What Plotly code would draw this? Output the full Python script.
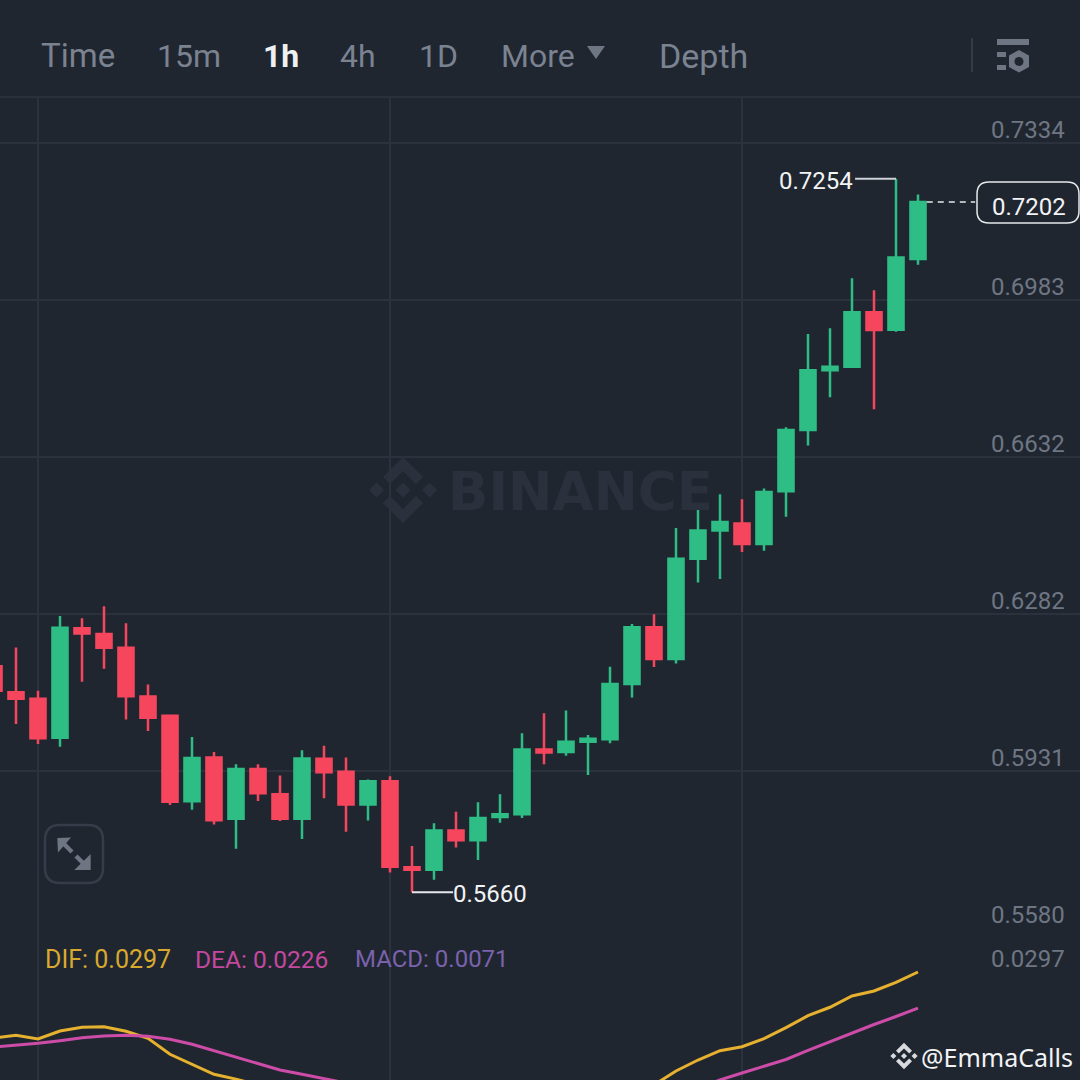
import plotly.graph_objects as go

candle_idx = list(range(43))
opens = [.6165, .6107, .6092, .6005, .6250, .6237, .6206, .6097, .6054, .5863, .5961, .5824, .5935, .5879, .5824,
         .5958, .5929, .5856, .5908, .5716, .5710, .5798, .5776, .5828, .5834, .5979, .5973, .5996, .6002, .6125,
         .6252, .6181, .6405, .6468, .6484, .6438, .6556, .6693, .6826, .6834, .6956, .6917, .7075]
highs = [.6165, .6207, .6110, .6277, .6272, .6299, .6261, .6124, .6054, .6007, .5973, .5946, .5946, .5921, .5977,
         .5987, .5961, .5912, .5919, .5763, .5814, .5840, .5861, .5879, .6015, .6060, .6066, .6011, .6164, .6259,
         .6281, .6474, .6520, .6549, .6538, .6562, .6699, .6907, .6920, .7032, .7005, .7254, .7219]
lows = [.6110, .6036, .5991, .5985, .6130, .6159, .6046, .6020, .5855, .5844, .5811, .5757, .5864, .5819, .5779,
        .5870, .5795, .5820, .5704, .5660, .5688, .5760, .5732, .5815, .5826, .5946, .5965, .5922, .5993, .6095,
        .6163, .6171, .6352, .6360, .6420, .6423, .6499, .6658, .6766, .6834, .6739, .6912, .7062]
closes = [.6110, .6092, .6004, .6251, .6238, .6206, .6098, .6050, .5862, .5960, .5821, .5935, .5881, .5824, .5959,
          .5928, .5856, .5908, .5717, .5710, .5798, .5776, .5826, .5834, .5979, .5972, .5996, .6003, .6125, .6252,
          .6181, .6405, .6468, .6487, .6438, .6554, .6693, .6826, .6834, .6956, .6916, .7078, .7202]

dif = [.0167, .01723, .0165, .01808, .01881, .01892, .01802, .01664, .01349, .01152, .00955, .0086, .00744,
       None, None, None, None, None, None, None, None, None, None, None, None, None, None, None, None, None,
       .00744, .0102, .01236, .0142, .01498, .01656, .01873, .02109, .02275, .02497, .02596, .02767, .0297]
dea = [.01492, .01526, .01565, .01617, .01676, .01709, .01723, .01703, .01644, .01546, .0142, .01301, .01171,
       .01039, .00955, .00868, .00783,
       None, None, None, None, None, None, None, None, None, None, None, None, None, None, None,
       .00685, .00842, .0098, .01108, .01246, .01424, .01597, .01768, .01936, .02093, .0226]

price_ticks = [.7334, .6983, .6632, .6282, .5931, .5580]
price_labels = ['0.7334', '0.6983', '0.6632', '0.6282', '0.5931', '0.5580']
grid_idx = [2, 18, 34]
last_price = .7202
high_price = .7254
low_price = .5660

BG = '#1f2630'
GRID = '#2c323d'
GRAY = '#6f7683'
TAB = '#7b8290'
GREEN = '#2ebd85'
RED = '#f6465d'
LOGO_DIM = '#2b313c'
LOGO_WHITE = '#d8dade'


# pixel helpers for the app chrome around the chart
def px(x):
    return x / 1080


def py(y):
    return 1 - y / 1080


def path_of(points):
    return 'M ' + ' L '.join(f'{px(x):.5f} {py(y):.5f}' for x, y in points) + ' Z'


def chrome_text(x, y, text, color=TAB, size=32, anchor='left', weight=400, family='Roboto'):
    return dict(xref='paper', yref='paper', x=px(x), y=py(y), text=text, showarrow=False, xanchor=anchor,
                yanchor='middle', font=dict(family=family, size=size, color=color, weight=weight))


def logo(cx, cy, s, color):
    # Binance mark made of two chevrons and three small diamonds
    shapes = []
    chevron = [(0, -33), (20, -13), (13, -6), (0, -19), (-13, -6), (-20, -13)]
    for sign in (1, -1):
        pts = [(cx + a * s, cy + sign * b * s) for a, b in chevron]
        shapes.append(dict(type='path', path=path_of(pts), fillcolor=color, line_width=0, xref='paper', yref='paper'))
    for dx in (-26.5, 0, 26.5):
        pts = [(cx + (dx + a) * s, cy + b * s) for a, b in [(0, -7.5), (7.5, 0), (0, 7.5), (-7.5, 0)]]
        shapes.append(dict(type='path', path=path_of(pts), fillcolor=color, line_width=0, xref='paper', yref='paper'))
    return shapes


fig = go.Figure()
fig.add_trace(go.Candlestick(x=candle_idx, open=opens, high=highs, low=lows, close=closes,
                             whiskerwidth=0, showlegend=False, hoverinfo='skip',
                             increasing=dict(line=dict(color=GREEN, width=2.5), fillcolor=GREEN),
                             decreasing=dict(line=dict(color=RED, width=2.5), fillcolor=RED)))
fig.add_trace(go.Scatter(x=candle_idx, y=dif, mode='lines', xaxis='x2', yaxis='y2', showlegend=False,
                         line=dict(color='#e6b12e', width=3), hoverinfo='skip'))
fig.add_trace(go.Scatter(x=candle_idx, y=dea, mode='lines', xaxis='x2', yaxis='y2', showlegend=False,
                         line=dict(color='#cc4ca8', width=3), hoverinfo='skip'))

annotations = []
for val, lab in zip(price_ticks, price_labels):
    annotations.append(dict(xref='paper', yref='y', x=px(1067), y=val, yshift=13, text=lab, showarrow=False,
                            xanchor='right', yanchor='middle', font=dict(family='Roboto', size=24, color=GRAY)))

annotations += [
    chrome_text(39, 56, 'Time', size=33),
    chrome_text(155, 56, '15m'),
    chrome_text(261, 56, '1h', color='#eef0f2', weight=700),
    chrome_text(338, 56, '4h'),
    chrome_text(417, 56, '1D'),
    chrome_text(499, 56, 'More'),
    chrome_text(657, 56, 'Depth', size=34),
    chrome_text(43, 959, 'DIF: 0.0297', color='#d9a92f', size=25),
    chrome_text(193, 959, 'DEA: 0.0226', color='#c4489f', size=24.5),
    chrome_text(353, 959, 'MACD: 0.0071', color='#7a62ad', size=24),
    chrome_text(1067, 959, '0.0297', color=GRAY, size=24, anchor='right'),
    chrome_text(1029, 207, '0.7202', color='#f2f3f5', size=24, anchor='center'),
    chrome_text(446, 491, 'BINANCE', color=LOGO_DIM, size=53, weight=700, family='DejaVu Sans'),
    chrome_text(919, 1057, '@EmmaCalls', color='#f2f3f5', size=25, family='Noto Sans'),
    dict(xref='x', yref='y', x=41, y=high_price, text='0.7254', showarrow=False, xanchor='right', xshift=-41,
         yanchor='middle', yshift=-2, font=dict(family='Roboto', size=24, color='#f2f3f5')),
    dict(xref='x', yref='y', x=19, y=low_price, text='0.5660', showarrow=False, xanchor='left', xshift=39,
         yanchor='middle', yshift=-2, font=dict(family='Roboto', size=24, color='#f2f3f5')),
]

shapes = [
    # toolbar rule, separator and icon
    dict(type='rect', xref='paper', yref='paper', x0=0, x1=1, y0=py(98), y1=py(96), fillcolor='#2b313c', line_width=0),
    dict(type='rect', xref='paper', yref='paper', x0=px(971), x1=px(973), y0=py(72), y1=py(38), fillcolor='#343a46', line_width=0),
    dict(type='path', xref='paper', yref='paper', fillcolor=GRAY, line_width=0,
         path=path_of([(587, 46), (605, 46), (596, 59)])),
    dict(type='rect', xref='paper', yref='paper', x0=px(997), x1=px(1029), y0=py(45), y1=py(39), fillcolor=GRAY, line_width=0),
    dict(type='rect', xref='paper', yref='paper', x0=px(997), x1=px(1006), y0=py(57), y1=py(52), fillcolor=GRAY, line_width=0),
    dict(type='rect', xref='paper', yref='paper', x0=px(997), x1=px(1006), y0=py(70), y1=py(65), fillcolor=GRAY, line_width=0),
    dict(type='path', xref='paper', yref='paper', fillcolor=GRAY, line_width=0,
         path=path_of([(1019, 50), (1029, 55.5), (1029, 67), (1019, 72.5), (1009, 67), (1009, 55.5)])),
    dict(type='circle', xref='paper', yref='paper', x0=px(1014.5), x1=px(1023.5), y0=py(66), y1=py(57), fillcolor=BG, line_width=0),
    # high / low callouts
    dict(type='line', xref='x', yref='y', x0=39.14, x1=41, y0=high_price, y1=high_price, line=dict(color='#cfd2d6', width=2)),
    dict(type='line', xref='x', yref='y', x0=19, x1=20.87, y0=low_price, y1=low_price, line=dict(color='#e6e8ea', width=2)),
    # last price marker
    dict(type='line', xref='x', yref='y', x0=42.4, x1=44.6, y0=last_price, y1=last_price,
         line=dict(color='#e6e8ea', width=1.5, dash='6px,5px')),
    dict(type='path', xref='paper', yref='paper', fillcolor=BG, line=dict(color='#e6e8ea', width=1.5),
         path=f'M {px(989)} {py(182)} L {px(1067)} {py(182)} Q {px(1079)} {py(182)} {px(1079)} {py(194)} '
              f'L {px(1079)} {py(211)} Q {px(1079)} {py(223)} {px(1067)} {py(223)} L {px(989)} {py(223)} '
              f'Q {px(977)} {py(223)} {px(977)} {py(211)} L {px(977)} {py(194)} Q {px(977)} {py(182)} {px(989)} {py(182)} Z'),
    # expand button
    dict(type='path', xref='paper', yref='paper', fillcolor='rgba(0,0,0,0)', line=dict(color='#363c48', width=2.5),
         path=f'M {px(60)} {py(825)} L {px(88)} {py(825)} Q {px(103)} {py(825)} {px(103)} {py(840)} '
              f'L {px(103)} {py(868)} Q {px(103)} {py(883)} {px(88)} {py(883)} L {px(60)} {py(883)} '
              f'Q {px(45)} {py(883)} {px(45)} {py(868)} L {px(45)} {py(840)} Q {px(45)} {py(825)} {px(60)} {py(825)} Z'),
    dict(type='path', xref='paper', yref='paper', fillcolor=GRAY, line_width=0,
         path=path_of([(57.3, 838), (71, 837.5), (58, 852.5)])),
    dict(type='path', xref='paper', yref='paper', fillcolor=GRAY, line_width=0,
         path=path_of([(90.7, 870), (74.3, 870), (90.7, 854)])),
    dict(type='line', xref='paper', yref='paper', x0=px(64), y0=py(844), x1=px(72), y1=py(852), line=dict(color=GRAY, width=4.5)),
    dict(type='line', xref='paper', yref='paper', x0=px(76), y0=py(856), x1=px(84), y1=py(864), line=dict(color=GRAY, width=4.5)),
]
for s in shapes:
    s['layer'] = 'above'
# watermark stays behind the candles
for s in logo(403, 490, 1, '#2b313c'):
    s['layer'] = 'below'
    shapes.append(s)
for s in logo(904, 1056, 0.4, LOGO_WHITE):
    s['layer'] = 'above'
    shapes.append(s)

axis_x = dict(range=[0.2727, 49.3636], tickmode='array', tickvals=grid_idx, showticklabels=False, showgrid=True,
              gridcolor=GRID, gridwidth=1.5, zeroline=False, showline=False, ticks='', fixedrange=True)

fig.update_layout(
    width=1080, height=1080, margin=dict(l=0, r=0, t=0, b=0), paper_bgcolor=BG, plot_bgcolor=BG, showlegend=False,
    boxgap=0.02,
    xaxis=dict(axis_x, domain=[0, 1], rangeslider=dict(visible=False), anchor='y'),
    xaxis2=dict(axis_x, domain=[0, 1], anchor='y2', matches='x'),
    yaxis=dict(domain=[py(928), py(97)], range=[.558, .74368], tickmode='array', tickvals=price_ticks,
               showticklabels=False, gridcolor=GRID, gridwidth=1.5, zeroline=False, showline=False, fixedrange=True),
    yaxis2=dict(domain=[0, py(928)], range=[.00842, .03837], showgrid=False, showticklabels=False, zeroline=False,
                showline=False, fixedrange=True),
    annotations=annotations, shapes=shapes,
)

fig.write_html('out.html', config={'displayModeBar': False},
               post_script="document.body.style.margin='0';document.body.style.overflow='hidden';")
